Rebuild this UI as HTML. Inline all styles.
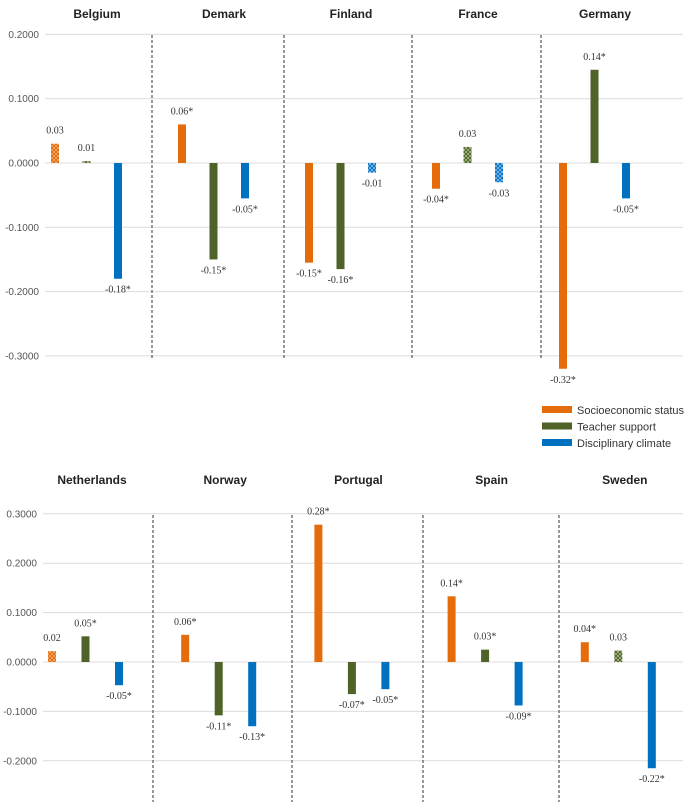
<!DOCTYPE html>
<html><head><meta charset="utf-8">
<style>
html,body{margin:0;padding:0;background:#fff;}
svg{display:block;font-family:"Liberation Serif",serif;}
.t{font-family:"Liberation Sans",sans-serif;font-weight:bold;font-size:12px;fill:#222;}
.ax{font-family:"Liberation Sans",sans-serif;font-size:10px;fill:#555;}
.v{font-size:10px;fill:#333;}
.lg{font-family:"Liberation Sans",sans-serif;font-size:11px;fill:#333;}
</style></head>
<body>
<svg id="chart" width="685" height="804" viewBox="0 0 685 804">
<defs>
<pattern id="hatch-o" width="4" height="4" patternUnits="userSpaceOnUse"><rect width="4" height="4" fill="#f3b27a"/><path d="M0 0L4 4M4 0L0 4" stroke="#e46c0a" stroke-width="1"/></pattern>
<pattern id="hatch-g" width="4" height="4" patternUnits="userSpaceOnUse"><rect width="4" height="4" fill="#b5c79a"/><path d="M0 0L4 4M4 0L0 4" stroke="#4f6228" stroke-width="1"/></pattern>
<pattern id="hatch-b" width="4" height="4" patternUnits="userSpaceOnUse"><rect width="4" height="4" fill="#9cc6ec"/><path d="M0 0L4 4M4 0L0 4" stroke="#0070c0" stroke-width="1"/></pattern>
</defs>
</svg>
<script>
// Top panel data
const topCountries = ["Belgium","Demark","Finland","France","Germany"];
const topSES = [0.03, 0.06, -0.155, -0.04, -0.32];
const topTS = [0.003, -0.15, -0.165, 0.025, 0.145];
const topDC = [-0.18, -0.055, -0.015, -0.03, -0.055];
const topSESLabels = ["0.03","0.06*","-0.15*","-0.04*","-0.32*"];
const topTSLabels = ["0.01","-0.15*","-0.16*","0.03","0.14*"];
const topDCLabels = ["-0.18*","-0.05*","-0.01","-0.03","-0.05*"];
const topSig = [[false,false,true],[true,true,true],[true,true,false],[true,false,false],[true,true,true]];
const topTicks = [0.2,0.1,0,-0.1,-0.2,-0.3];
// Bottom panel data
const botCountries = ["Netherlands","Norway","Portugal","Spain","Sweden"];
const botSES = [0.022, 0.055, 0.278, 0.133, 0.04];
const botTS = [0.052, -0.108, -0.065, 0.025, 0.023];
const botDC = [-0.047, -0.13, -0.055, -0.088, -0.215];
const botSESLabels = ["0.02","0.06*","0.28*","0.14*","0.04*"];
const botTSLabels = ["0.05*","-0.11*","-0.07*","0.03*","0.03"];
const botDCLabels = ["-0.05*","-0.13*","-0.05*","-0.09*","-0.22*"];
const botSig = [[false,true,true],[true,true,true],[true,true,true],[true,true,true],[true,false,true]];
const botTicks = [0.3,0.2,0.1,0,-0.1,-0.2];

const svg = document.getElementById('chart');
const NS = 'http://www.w3.org/2000/svg';
function mk(tag, attrs, parent){const e=document.createElementNS(NS,tag);for(const k in attrs)e.setAttribute(k,attrs[k]);(parent||svg).appendChild(e);return e;}
const colors = ["#e46c0a","#4f6228","#0070c0"];
const hatches = ["url(#hatch-o)","url(#hatch-g)","url(#hatch-b)"];
const seriesKeys = ["ses","teacher-support","disciplinary-climate"];

function drawPanel(cfg){
  const y = v => cfg.zeroY - v*cfg.scale;
  const g = mk('g',{});
  
  
  cfg.ticks.forEach(t=>{
    const l = mk('line',{x1:cfg.gridX0,x2:683,y1:y(t),y2:y(t),stroke:'#dcdcdc','stroke-width':1},g);
    
    
    const tx = mk('text',{x:cfg.gridX0-6,y:y(t)+3.5,'text-anchor':'end',class:'ax'},g);
    
    
    tx.textContent = t.toFixed(4);
  });
  cfg.dividers.forEach(dx=>{
    const d = mk('line',{x1:dx,x2:dx,y1:cfg.divY0,y2:cfg.divY1,stroke:'#555','stroke-width':1.2,'stroke-dasharray':'3,2'},g);
    
    
  });
  cfg.countries.forEach((c,i)=>{
    const x0 = cfg.firstX + cfg.step*i;
    const tt = mk('text',{x:x0+32+(cfg.titleOff||0),y:cfg.titleY,'text-anchor':'middle',class:'t'},g);
    
    
    tt.textContent = c;
    [cfg.ses,cfg.ts,cfg.dc].forEach((arr,s)=>{
      const v = arr[i];
      const bx = x0 + s*cfg.barGap;
      const top = Math.min(y(0),y(v)), h = Math.abs(y(v)-y(0));
      const r = mk('rect',{x:bx-4,y:top,width:8,height:Math.max(h,1),fill:cfg.sig[i][s]?colors[s]:hatches[s]},g);
      
      
      const lab = [cfg.sesL,cfg.tsL,cfg.dcL][s][i];
      const ly = v>=0 ? y(v)-10 : y(v)+14;
      const lt = mk('text',{x:bx,y:ly,'text-anchor':'middle',class:'v'},g);
      
      
      lt.textContent = lab;
    });
  });
}
drawPanel({name:'top-chart',countries:topCountries,ses:topSES,ts:topTS,dc:topDC,sesL:topSESLabels,tsL:topTSLabels,dcL:topDCLabels,sig:topSig,ticks:topTicks,
  zeroY:163,scale:643,gridX0:45,firstX:55,step:127,barGap:31.5,dividers:[152,284,412,541],divY0:35,divY1:358,titleY:18,titleOff:10});
drawPanel({name:'bottom-chart',countries:botCountries,ses:botSES,ts:botTS,dc:botDC,sesL:botSESLabels,tsL:botTSLabels,dcL:botDCLabels,sig:botSig,ticks:botTicks,
  zeroY:662,scale:494,gridX0:43,firstX:52,step:133.2,barGap:33.5,dividers:[153,292,423,559],divY0:515,divY1:802,titleY:484,titleOff:8});

// legend
const legNames = ["Socioeconomic status","Teacher support","Disciplinary climate"];
const lg = mk('g',{});


legNames.forEach((n,i)=>{
  const yy = 410 + i*16.5;
  const r = mk('rect',{x:542,y:yy-4,width:30,height:7,fill:colors[i]},lg);
  
  
  const t = mk('text',{x:577,y:yy+4,class:'lg'},lg);
  
  
  t.textContent = n;
});
</script>
</body></html>
